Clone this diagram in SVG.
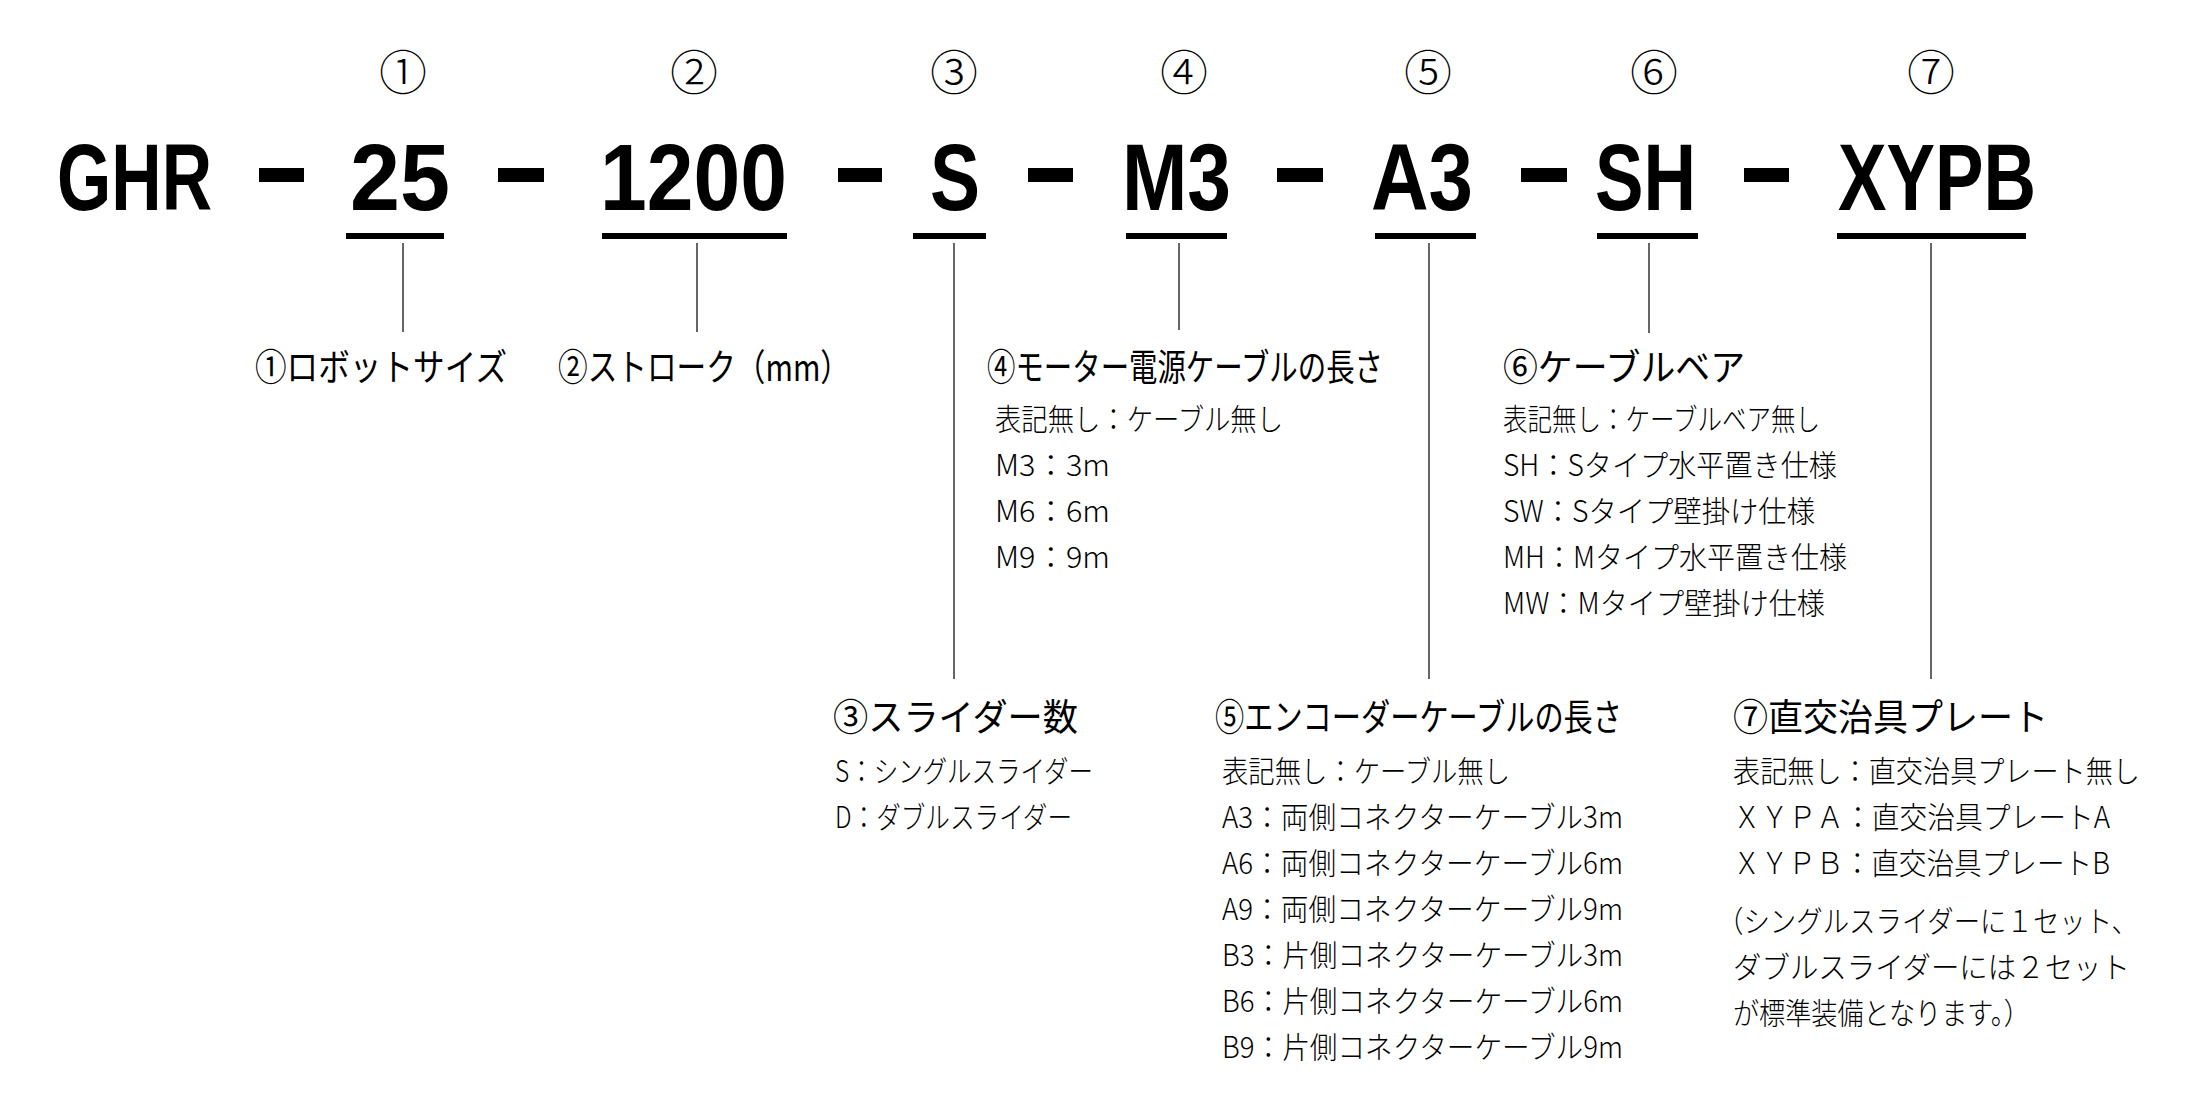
<svg xmlns="http://www.w3.org/2000/svg" width="2200" height="1108" viewBox="0 0 2200 1108">
<style>
.code{font-family:"Liberation Sans",Arial,sans-serif;font-weight:bold;font-size:95px;fill:#000}
.num{font-family:"Noto Sans CJK JP",sans-serif;font-size:48px;font-weight:300;fill:#000;text-anchor:middle}
.hd{font-family:"Noto Sans CJK JP",sans-serif;font-size:37px;font-weight:400;fill:#000}
.it{font-family:"Noto Sans CJK JP",sans-serif;font-size:30px;font-weight:300;fill:#000}
.bar{fill:#000}
.conn{stroke:#333;stroke-width:1.5;fill:none}
</style>
<rect width="2200" height="1108" fill="#fff"/>
<g id="code">
<text class="code" x="57" y="210" textLength="155" lengthAdjust="spacingAndGlyphs">GHR</text>
<text class="code" x="350" y="210" textLength="100" lengthAdjust="spacingAndGlyphs">25</text>
<text class="code" x="600" y="210" textLength="187" lengthAdjust="spacingAndGlyphs">1200</text>
<text class="code" x="930" y="210" textLength="50" lengthAdjust="spacingAndGlyphs">S</text>
<text class="code" x="1122" y="210" textLength="109" lengthAdjust="spacingAndGlyphs">M3</text>
<text class="code" x="1371" y="210" textLength="102" lengthAdjust="spacingAndGlyphs">A3</text>
<text class="code" x="1595" y="210" textLength="101" lengthAdjust="spacingAndGlyphs">SH</text>
<text class="code" x="1838" y="210" textLength="198" lengthAdjust="spacingAndGlyphs">XYPB</text>
</g>
<g id="separators">
<rect class="bar" x="259" y="168" width="45" height="14"/>
<rect class="bar" x="498" y="168" width="46" height="14"/>
<rect class="bar" x="838" y="168" width="44" height="14"/>
<rect class="bar" x="1028" y="168" width="45" height="14"/>
<rect class="bar" x="1277" y="168" width="46" height="14"/>
<rect class="bar" x="1521" y="168" width="46" height="14"/>
<rect class="bar" x="1744" y="168" width="45" height="14"/>
</g>
<g id="underlines">
<rect class="bar" x="346" y="233" width="98" height="6"/>
<rect class="bar" x="602" y="233" width="185" height="6"/>
<rect class="bar" x="913" y="233" width="73" height="6"/>
<rect class="bar" x="1126" y="233" width="101" height="6"/>
<rect class="bar" x="1375" y="233" width="101" height="6"/>
<rect class="bar" x="1597" y="233" width="101" height="6"/>
<rect class="bar" x="1837" y="233" width="189" height="6"/>
</g>
<g id="numbers">
<text class="num" x="403" y="90">①</text>
<text class="num" x="694" y="90">②</text>
<text class="num" x="954" y="90">③</text>
<text class="num" x="1184" y="90">④</text>
<text class="num" x="1428" y="90">⑤</text>
<text class="num" x="1654" y="90">⑥</text>
<text class="num" x="1931" y="90">⑦</text>
</g>
<g id="connectors">
<line class="conn" x1="403" y1="243" x2="403" y2="332"/>
<line class="conn" x1="697" y1="243" x2="697" y2="332"/>
<line class="conn" x1="954" y1="243" x2="954" y2="679"/>
<line class="conn" x1="1179" y1="243" x2="1179" y2="330"/>
<line class="conn" x1="1429" y1="243" x2="1429" y2="679"/>
<line class="conn" x1="1649" y1="243" x2="1649" y2="333"/>
<line class="conn" x1="1931" y1="243" x2="1931" y2="679"/>
</g>
<g id="node1">
<text class="hd" x="255" y="381" textLength="252" lengthAdjust="spacingAndGlyphs">①ロボットサイズ</text>
</g>
<g id="node2">
<text class="hd" x="558" y="381" textLength="292" lengthAdjust="spacingAndGlyphs">②ストローク（mm）</text>
</g>
<g id="node4">
<text class="hd" x="987" y="381" textLength="396" lengthAdjust="spacingAndGlyphs">④モーター電源ケーブルの長さ</text>
<text class="it" x="995" y="430" textLength="288" lengthAdjust="spacingAndGlyphs">表記無し：ケーブル無し</text>
<text class="it" x="995" y="476" textLength="115" lengthAdjust="spacingAndGlyphs">M3：3m</text>
<text class="it" x="995" y="522" textLength="115" lengthAdjust="spacingAndGlyphs">M6：6m</text>
<text class="it" x="995" y="568" textLength="115" lengthAdjust="spacingAndGlyphs">M9：9m</text>
</g>
<g id="node6">
<text class="hd" x="1503" y="381" textLength="242" lengthAdjust="spacingAndGlyphs">⑥ケーブルベア</text>
<text class="it" x="1503" y="430" textLength="317" lengthAdjust="spacingAndGlyphs">表記無し：ケーブルベア無し</text>
<text class="it" x="1503" y="476" textLength="334" lengthAdjust="spacingAndGlyphs">SH：Sタイプ水平置き仕様</text>
<text class="it" x="1503" y="522" textLength="312" lengthAdjust="spacingAndGlyphs">SW：Sタイプ壁掛け仕様</text>
<text class="it" x="1503" y="568" textLength="344" lengthAdjust="spacingAndGlyphs">MH：Mタイプ水平置き仕様</text>
<text class="it" x="1503" y="614" textLength="322" lengthAdjust="spacingAndGlyphs">MW：Mタイプ壁掛け仕様</text>
</g>
<g id="node3">
<text class="hd" x="833" y="731" textLength="245" lengthAdjust="spacingAndGlyphs">③スライダー数</text>
<text class="it" x="835" y="782" textLength="258" lengthAdjust="spacingAndGlyphs">S：シングルスライダー</text>
<text class="it" x="835" y="828" textLength="237" lengthAdjust="spacingAndGlyphs">D：ダブルスライダー</text>
</g>
<g id="node5">
<text class="hd" x="1215" y="731" textLength="407" lengthAdjust="spacingAndGlyphs">⑤エンコーダーケーブルの長さ</text>
<text class="it" x="1222" y="782" textLength="288" lengthAdjust="spacingAndGlyphs">表記無し：ケーブル無し</text>
<text class="it" x="1222" y="828" textLength="401" lengthAdjust="spacingAndGlyphs">A3：両側コネクターケーブル3m</text>
<text class="it" x="1222" y="874" textLength="401" lengthAdjust="spacingAndGlyphs">A6：両側コネクターケーブル6m</text>
<text class="it" x="1222" y="920" textLength="401" lengthAdjust="spacingAndGlyphs">A9：両側コネクターケーブル9m</text>
<text class="it" x="1222" y="966" textLength="401" lengthAdjust="spacingAndGlyphs">B3：片側コネクターケーブル3m</text>
<text class="it" x="1222" y="1012" textLength="401" lengthAdjust="spacingAndGlyphs">B6：片側コネクターケーブル6m</text>
<text class="it" x="1222" y="1058" textLength="401" lengthAdjust="spacingAndGlyphs">B9：片側コネクターケーブル9m</text>
</g>
<g id="node7">
<text class="hd" x="1733" y="731" textLength="315" lengthAdjust="spacingAndGlyphs">⑦直交治具プレート</text>
<text class="it" x="1733" y="782" textLength="407" lengthAdjust="spacingAndGlyphs">表記無し：直交治具プレート無し</text>
<text class="it" x="1733" y="828" textLength="377" lengthAdjust="spacingAndGlyphs">ＸＹＰＡ：直交治具プレートA</text>
<text class="it" x="1733" y="874" textLength="377" lengthAdjust="spacingAndGlyphs">ＸＹＰＢ：直交治具プレートB</text>
<text class="it" x="1717" y="932" textLength="421" lengthAdjust="spacingAndGlyphs">（シングルスライダーに１セット、</text>
<text class="it" x="1733" y="978" textLength="397" lengthAdjust="spacingAndGlyphs">ダブルスライダーには２セット</text>
<text class="it" x="1733" y="1024" textLength="297" lengthAdjust="spacingAndGlyphs">が標準装備となります。）</text>
</g>
</svg>
